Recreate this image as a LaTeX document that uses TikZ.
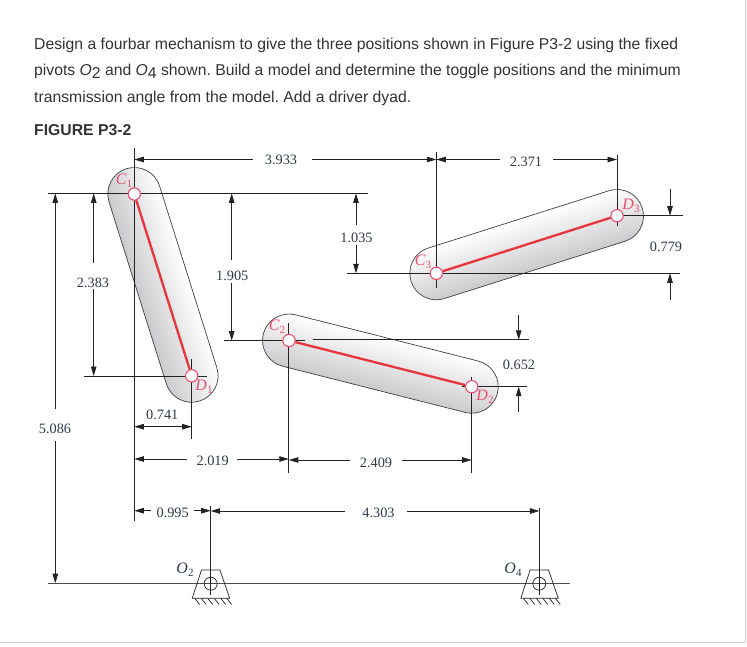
\documentclass[tikz,border=0pt]{standalone}
\usepackage{fontspec}
\setmainfont{Liberation Serif}
\newfontfamily\bodyfont{Liberation Sans}
\usetikzlibrary{arrows.meta}
\definecolor{inkc}{HTML}{222222}
\definecolor{bodyc}{HTML}{333333}
\definecolor{dimc}{HTML}{2F3A4A}
\definecolor{redc}{HTML}{E8343C}
\definecolor{pinkc}{HTML}{EA4F6C}
\definecolor{barc}{HTML}{CBCBCE}
\tikzset{
  dimline/.style={draw=inkc,line width=0.75pt},
  dimarrow/.style={dimline,-{Triangle[length=9.5pt,width=5.5pt]}},
  ext/.style={draw=inkc,line width=0.75pt},
  groundline/.style={draw=black!70,line width=1pt},
  barshape/.style={draw=black!75,line width=0.7pt,top color=white,bottom color=barc},
  link/.style={draw=redc,line width=2.3pt},
  pivot/.style={circle,draw=pinkc,fill=white,line width=1.1pt,minimum size=12.3pt,inner sep=0pt},
  dimtext/.style={font=\fontsize{14.3}{16}\selectfont,text=dimc,inner sep=0pt},
  poslabel/.style={font=\fontsize{16}{18}\selectfont,text=pinkc,inner sep=0pt},
  pinlabel/.style={font=\fontsize{16}{18}\selectfont,text=dimc,inner sep=0pt},
  para/.style={font=\bodyfont\fontsize{15.74}{18}\selectfont,text=bodyc,inner sep=0pt,anchor=base west},
  grnd/.style={draw=inkc,line width=0.7pt},
  pinhole/.style={circle,draw=inkc,line width=0.7pt,minimum size=13pt,inner sep=0pt},
}
\frenchspacing
\newcommand{\psub}[2]{\textit{#1}\raisebox{-3pt}{\fontsize{11}{11}\selectfont #2}}
\newcommand{\tsub}[2]{\textit{#1}\raisebox{-3pt}{#2}}
% a dimension arrow between two named points
\newcommand{\dimto}[3]{\coordinate (#1s) at #2;\coordinate (#1e) at #3;\draw[dimarrow] (#1s) -- (#1e);}
\newcommand{\extline}[3]{\coordinate (#1s) at #2;\coordinate (#1e) at #3;\draw[ext] (#1s) -- (#1e);}
\newcommand{\linkbar}[3]{\begin{scope}[transform canvas={shift={#1},rotate=#3}]
  \path[barshape] (0,-26.5) -- (#2,-26.5) arc[start angle=-90,end angle=90,radius=26.5] -- (0,26.5) arc[start angle=90,end angle=270,radius=26.5] -- cycle;
\end{scope}}
\newcommand{\ground}[2]{%
  \draw[grnd] (#1-9.2,570) -- (#1+9.2,570) -- (#1+19,598.3) -- (#1-18.5,598.3) -- cycle;
  \foreach \hh in {-16,-9.5,-3,3.5,10,16}{\draw[grnd] (#1+\hh,598.3) -- (#1+\hh+5,604.5);}
  \node[pinhole] (#2) at (#1,583.7) {};
}
\begin{document}
\begin{tikzpicture}[x=1pt,y=-1pt]
\useasboundingbox (0,0) rectangle (747,646);
\fill[white] (0,0) rectangle (747,646);
\draw[black!18,line width=1pt] (0,642) -- (745.5,642) -- (745.5,0);
% text
\node[para] (t1) at (34,49) {Design a fourbar mechanism to give the three positions shown in Figure P3-2 using the fixed};
\node[para] (t2) at (34,75) {pivots \tsub{O}{2} and \tsub{O}{4} shown. Build a model and determine the toggle positions and the minimum};
\node[para] (t3) at (34,102) {transmission angle from the model. Add a driver dyad.};
\node[para,font=\bodyfont\bfseries\fontsize{15.74}{18}\selectfont] (t4) at (34,135) {FIGURE P3-2};
% joint positions
\coordinate (c1) at (134.3,194);
\coordinate (d1) at (191.7,375.8);
\coordinate (c2) at (289,340.5);
\coordinate (d2) at (471.7,386.7);
\coordinate (c3) at (436.3,273.3);
\coordinate (d3) at (617,215.7);
% bars
\linkbar{(c1)}{190.6}{-72.5}
\linkbar{(c2)}{188.5}{-14.2}
\linkbar{(c3)}{189.6}{17.6}
% horizontal reference lines
\extline{h1}{(48,193.4)}{(368,193.4)}
\extline{h2}{(84,376)}{(206.5,376)}
\extline{h3}{(224,340.6)}{(305,340.6)}
\extline{h4}{(313,339.8)}{(529,339.8)}
\extline{h5}{(462,386.7)}{(527,386.7)}
\extline{h6}{(346.7,273.3)}{(680,273.3)}
\extline{h7}{(617,215.7)}{(683,215.7)}
\coordinate (gl) at (48,583.7);
\coordinate (gr) at (570,583.7);
\draw[groundline] (gl) -- (gr);
% vertical reference lines
\extline{v1}{(134.3,148)}{(134.3,521)}
\extline{v2}{(191.7,359)}{(191.7,439)}
\extline{v3}{(288.8,323)}{(288.8,473)}
\extline{v4}{(471.7,377)}{(471.7,473)}
\extline{v5}{(436.3,152)}{(436.3,288)}
\extline{v6}{(617,155)}{(617,226)}
\extline{v7}{(210.7,505.5)}{(210.7,595)}
\extline{v8}{(539.3,508)}{(539.3,595)}
% grounds
\ground{210.7}{o2pin}
\ground{539.3}{o4pin}
\node[pinlabel] (o2) at (185,570) {\psub{O}{2}};
\node[pinlabel] (o4) at (513,570) {\psub{O}{4}};
% links and pivots
\node[pivot] (C1) at (c1) {};
\node[pivot] (D1) at (d1) {};
\node[pivot] (C2) at (c2) {};
\node[pivot] (D2) at (d2) {};
\node[pivot] (C3) at (c3) {};
\node[pivot] (D3) at (d3) {};
\draw[link] (C1) -- (D1);
\draw[link] (C2) -- (D2);
\draw[link] (C3) -- (D3);
\node[poslabel] (lc1) at (124,181) {\psub{C}{1}};
\node[poslabel] (ld1) at (204,387) {\psub{D}{1}};
\node[poslabel] (lc2) at (277,327) {\psub{C}{2}};
\node[poslabel] (ld2) at (485,397) {\psub{D}{2}};
\node[poslabel] (lc3) at (423,262) {\psub{C}{3}};
\node[poslabel] (ld3) at (631,206) {\psub{D}{3}};
% dimensions
\node[dimtext] (n3933) at (281,160) {3.933};
\dimto{a1}{(252.5,159.5)}{(134.3,159.5)}
\dimto{a2}{(312,159.5)}{(436.3,159.5)}
\node[dimtext] (n2371) at (526,162) {2.371};
\dimto{a3}{(500,159.5)}{(436.3,159.5)}
\dimto{a4}{(553,159.5)}{(617,159.5)}
\node[dimtext] (n2383) at (93,283) {2.383};
\dimto{a5}{(93.7,263)}{(93.7,193.4)}
\dimto{a6}{(93.7,289)}{(93.7,376)}
\node[dimtext] (n1905) at (232.3,275.7) {1.905};
\dimto{a7}{(231.7,260)}{(231.7,193.4)}
\dimto{a8}{(231.7,283)}{(231.7,340.6)}
\node[dimtext] (n1035) at (356.5,238.3) {1.035};
\dimto{a9}{(356,225)}{(356,193.4)}
\dimto{a10}{(356,245)}{(356,273.3)}
\node[dimtext] (n5086) at (55,429) {5.086};
\dimto{a11}{(55.3,409)}{(55.3,193.4)}
\dimto{a12}{(55.3,440.7)}{(55.3,583.2)}
\node[dimtext] (n0652) at (519,365) {0.652};
\dimto{a13}{(518.7,315)}{(518.7,339.8)}
\dimto{a14}{(518.7,411.7)}{(518.7,386.7)}
\node[dimtext] (n0779) at (666,247) {0.779};
\dimto{a15}{(670,189)}{(670,215.7)}
\dimto{a16}{(670,300)}{(670,273.3)}
\node[dimtext] (n0741) at (162.3,415) {0.741};
\coordinate (m741) at (163,426.7);
\coordinate (l741) at (134.3,426.7);
\coordinate (r741) at (191.7,426.7);
\draw[dimarrow] (m741) -- (l741);
\draw[dimarrow] (m741) -- (r741);
\node[dimtext] (n2019) at (212.7,461) {2.019};
\dimto{a17}{(186.7,459)}{(134.3,459)}
\dimto{a18}{(237,459)}{(288.8,459)}
\node[dimtext] (n2409) at (376,463) {2.409};
\dimto{a19}{(350,460)}{(288.8,460)}
\dimto{a20}{(402,460)}{(471.7,460)}
\node[dimtext] (n0995) at (172.7,512.7) {0.995};
\dimto{a21}{(150.7,510.7)}{(134.3,510.7)}
\dimto{a22}{(194,510.7)}{(210.7,510.7)}
\node[dimtext] (n4303) at (378.5,512.7) {4.303};
\dimto{a23}{(345,511)}{(210.7,511)}
\dimto{a24}{(407,511)}{(539.3,511)}
\end{tikzpicture}
\end{document}
